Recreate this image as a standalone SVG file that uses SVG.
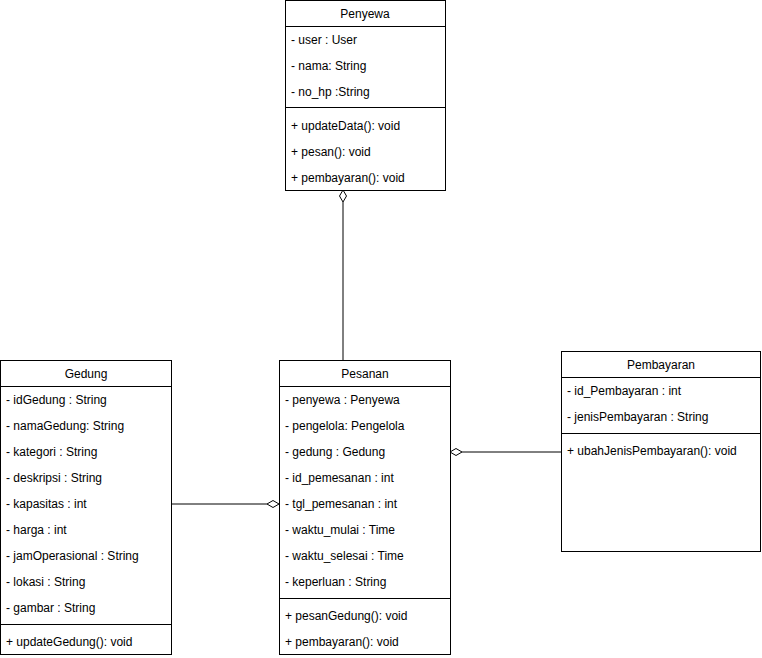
<svg xmlns="http://www.w3.org/2000/svg" width="762" height="658" viewBox="0 0 762 658">
<style>
rect{fill:#fff;stroke:#000;stroke-width:1}
.l{stroke:#000;stroke-width:1;fill:none}
text{font-family:"Liberation Sans",Arial,sans-serif;font-size:12px;fill:#000}
.t{text-anchor:middle}
.d{fill:#fff;stroke:#000;stroke-width:1}
</style>
<rect width="762" height="658" style="fill:#fff;stroke:none"/>
<g id="connectors">
<line class="l" x1="343" y1="202" x2="343" y2="361"/>
<path class="d" d="M343,190 L346.5,196 L343,202 L339.5,196 Z"/>
<line class="l" x1="171" y1="504" x2="267" y2="504"/>
<path class="d" d="M279,504 L273,507.5 L267,504 L273,500.5 Z"/>
<line class="l" x1="462" y1="452" x2="561" y2="452"/>
<path class="d" d="M450,452 L456,448.5 L462,452 L456,455.5 Z"/>
</g>
<g id="Penyewa">
<rect x="285.5" y="0.5" width="160" height="190"/>
<line class="l" x1="285.5" y1="26.5" x2="445.5" y2="26.5"/>
<line class="l" x1="285.5" y1="107.5" x2="445.5" y2="107.5"/>
<text class="t" x="365" y="18">Penyewa</text>
<text x="291" y="44">- user : User</text>
<text x="291" y="70">- nama: String</text>
<text x="291" y="96">- no_hp :String</text>
<text x="291" y="130">+ updateData(): void</text>
<text x="291" y="156">+ pesan(): void</text>
<text x="291" y="182">+ pembayaran(): void</text>
</g>
<g id="Gedung">
<rect x="0.5" y="360.5" width="171" height="294"/>
<line class="l" x1="0.5" y1="386.5" x2="171.5" y2="386.5"/>
<line class="l" x1="0.5" y1="624.5" x2="171.5" y2="624.5"/>
<text class="t" x="86" y="378">Gedung</text>
<text x="6" y="404">- idGedung : String</text>
<text x="6" y="430">- namaGedung: String</text>
<text x="6" y="456">- kategori : String</text>
<text x="6" y="482">- deskripsi : String</text>
<text x="6" y="508">- kapasitas : int</text>
<text x="6" y="534">- harga : int</text>
<text x="6" y="560">- jamOperasional : String</text>
<text x="6" y="586">- lokasi : String</text>
<text x="6" y="612">- gambar : String</text>
<text x="6" y="646">+ updateGedung(): void</text>
</g>
<g id="Pesanan">
<rect x="279.5" y="360.5" width="171" height="294"/>
<line class="l" x1="279.5" y1="386.5" x2="450.5" y2="386.5"/>
<line class="l" x1="279.5" y1="598.5" x2="450.5" y2="598.5"/>
<text class="t" x="365" y="378">Pesanan</text>
<text x="285" y="404">- penyewa : Penyewa</text>
<text x="285" y="430">- pengelola: Pengelola</text>
<text x="285" y="456">- gedung : Gedung</text>
<text x="285" y="482">- id_pemesanan : int</text>
<text x="285" y="508">- tgl_pemesanan : int</text>
<text x="285" y="534">- waktu_mulai : Time</text>
<text x="285" y="560">- waktu_selesai : Time</text>
<text x="285" y="586">- keperluan : String</text>
<text x="285" y="620">+ pesanGedung(): void</text>
<text x="285" y="646">+ pembayaran(): void</text>
</g>
<g id="Pembayaran">
<rect x="561.5" y="351.5" width="199" height="200"/>
<line class="l" x1="561.5" y1="377.5" x2="760.5" y2="377.5"/>
<line class="l" x1="561.5" y1="433.5" x2="760.5" y2="433.5"/>
<text class="t" x="661" y="369">Pembayaran</text>
<text x="567" y="395">- id_Pembayaran : int</text>
<text x="567" y="421">- jenisPembayaran : String</text>
<text x="567" y="455">+ ubahJenisPembayaran(): void</text>
</g>
</svg>
